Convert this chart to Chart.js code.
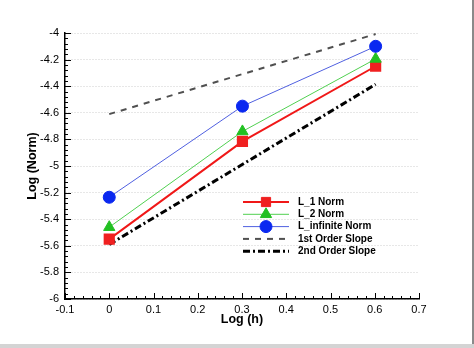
<!DOCTYPE html>
<html>
<head>
<meta charset="utf-8">
<script src="https://cdn.jsdelivr.net/npm/chart.js@4"></script>
<style>
  html, body { margin: 0; padding: 0; background: #fff; }
  #wrap { position: relative; width: 474px; height: 348px; }
  /* frame edges of the figure */
  #wrap::after { content: ""; position: absolute; right: 0; top: 0; width: 2px; height: 344px; background: #8a8a8a; }
  #wrap::before { content: ""; position: absolute; left: 0; bottom: 0; width: 474px; height: 4px; background: #d4d4d4; }
</style>
</head>
<body>
<div id="wrap"><canvas id="convChart" width="474" height="348"></canvas></div>
<script>
// Grid spacing values h, plotted as log10(h)
const logH = [0, 0.301, 0.602];

// Error norms at each grid
const l1Norm = [-5.55, -4.815, -4.25];
const l2Norm = [-5.46, -4.74, -4.195];
const lInfNorm = [-5.235, -4.55, -4.10];

// Reference slopes (end points)
const firstOrderX = [0, 0.602];
const firstOrderY = [-4.61, -4.008];
const secondOrderX = [0, 0.602];
const secondOrderY = [-5.59, -4.386];

const xTicks = [-0.1, 0, 0.1, 0.2, 0.3, 0.4, 0.5, 0.6, 0.7];
const yTicks = [-4, -4.2, -4.4, -4.6, -4.8, -5, -5.2, -5.4, -5.6, -5.8, -6];

const pts = (xs, ys) => xs.map((x, i) => ({ x: x, y: ys[i] }));

const tickFont = { family: "Arial, 'Liberation Sans'", size: 11 };
const titleFont = { family: "Arial, 'Liberation Sans'", size: 12.5, weight: "bold" };

// Inward-pointing major/minor ticks on both axes
const axisTicks = {
  id: "axisTicks",
  afterDraw(chart) {
    const ctx = chart.ctx;
    const xs = chart.scales.x, ys = chart.scales.y;
    const area = chart.chartArea;
    ctx.save();
    ctx.strokeStyle = "#000";
    ctx.lineWidth = 1;
    for (let i = 0; i <= 40; i++) {
      const v = -0.1 + i * 0.02;
      const px = Math.round(xs.getPixelForValue(v)) + 0.5;
      const len = i % 5 === 0 ? 6 : 3;
      ctx.beginPath();
      ctx.moveTo(px, area.bottom);
      ctx.lineTo(px, area.bottom - len);
      ctx.stroke();
    }
    for (let i = 0; i <= 50; i++) {
      const v = -6 + i * 0.04;
      const py = Math.round(ys.getPixelForValue(v)) + 0.5;
      const len = i % 5 === 0 ? 6 : 3;
      ctx.beginPath();
      ctx.moveTo(area.left, py);
      ctx.lineTo(area.left + len, py);
      ctx.stroke();
    }
    ctx.restore();
  }
};

// Legend with line sample plus marker for each series
const lineLegend = {
  id: "lineLegend",
  afterDraw(chart) {
    const ctx = chart.ctx;
    const x0 = 243, x1 = 289, tx = 298;
    let y = 202;
    ctx.save();
    ctx.font = "bold 10px Arial, 'Liberation Sans'";
    ctx.textBaseline = "middle";
    chart.data.datasets.forEach((ds) => {
      ctx.strokeStyle = ds.borderColor;
      ctx.lineWidth = ds.borderWidth;
      ctx.setLineDash(ds.borderDash || []);
      ctx.beginPath();
      ctx.moveTo(x0, y);
      ctx.lineTo(x1, y);
      ctx.stroke();
      ctx.setLineDash([]);
      if (ds.pointRadius > 0) {
        ctx.fillStyle = ds.pointBackgroundColor;
        ctx.strokeStyle = ds.pointBackgroundColor;
        ctx.lineWidth = 1;
        Chart.helpers.drawPoint(ctx, { pointStyle: ds.pointStyle, radius: ds.pointRadius, borderWidth: 1, rotation: 0 }, (x0 + x1) / 2, y);
      }
      ctx.fillStyle = "#000";
      ctx.fillText(ds.label, tx, y);
      y += 12.3;
    });
    ctx.restore();
  }
};

new Chart(document.getElementById("convChart"), {
  type: "line",
  data: {
    datasets: [
      {
        label: "L_1 Norm",
        data: pts(logH, l1Norm),
        borderColor: "#f01818",
        borderWidth: 2,
        pointStyle: "rect",
        pointRadius: 6.5,
        pointBackgroundColor: "#f02020",
        pointBorderColor: "#f02020",
        order: 2
      },
      {
        label: "L_2 Norm",
        data: pts(logH, l2Norm),
        borderColor: "#50d050",
        borderWidth: 1,
        pointStyle: "triangle",
        pointRadius: 6.5,
        pointBackgroundColor: "#22c022",
        pointBorderColor: "#22c022",
        order: 1
      },
      {
        label: "L_infinite Norm",
        data: pts(logH, lInfNorm),
        borderColor: "#5060e0",
        borderWidth: 1,
        pointStyle: "circle",
        pointRadius: 6,
        pointBackgroundColor: "#0a28f0",
        pointBorderColor: "#0a28f0",
        order: 0
      },
      {
        label: "1st Order Slope",
        data: pts(firstOrderX, firstOrderY),
        borderColor: "#505050",
        borderWidth: 2,
        borderDash: [6, 6],
        pointRadius: 0,
        order: 3
      },
      {
        label: "2nd Order Slope",
        data: pts(secondOrderX, secondOrderY),
        borderColor: "#000",
        borderWidth: 3,
        borderDash: [7, 3, 2, 3],
        pointRadius: 0,
        order: 3
      }
    ]
  },
  options: {
    responsive: false,
    animation: false,
    layout: { padding: { left: 0, top: 33, right: 55, bottom: 21 } },
    plugins: { legend: { display: false }, tooltip: { enabled: false } },
    scales: {
      x: {
        type: "linear",
        min: -0.1,
        max: 0.7,
        afterFit: (s) => { s.height = 28; },
        afterBuildTicks: (s) => { s.ticks = xTicks.map((v) => ({ value: v })); },
        border: { display: true, color: "#000", width: 1.5 },
        grid: { display: false, drawTicks: false },
        ticks: {
          color: "#000",
          font: tickFont,
          padding: 4,
          maxRotation: 0,
          callback: (v) => String(Math.round(v * 10) / 10)
        },
        title: { display: true, text: "Log (h)", color: "#000", font: titleFont, padding: { top: 0, bottom: 0 } }
      },
      y: {
        type: "linear",
        min: -6,
        max: -4,
        afterFit: (s) => { s.width = 65; },
        afterBuildTicks: (s) => { s.ticks = yTicks.map((v) => ({ value: v })); },
        border: { display: true, color: "#000", width: 1.5, dash: [1, 2] },
        grid: {
          display: true,
          drawTicks: false,
          color: "#cfcfcf",
          lineWidth: 1
        },
        ticks: {
          color: "#000",
          font: tickFont,
          padding: 6,
          callback: (v) => String(Math.round(v * 10) / 10)
        },
        title: { display: true, text: "Log (Norm)", color: "#000", font: titleFont, padding: { top: 25, bottom: 0 } }
      }
    }
  },
  plugins: [axisTicks, lineLegend]
});
</script>
</body>
</html>
